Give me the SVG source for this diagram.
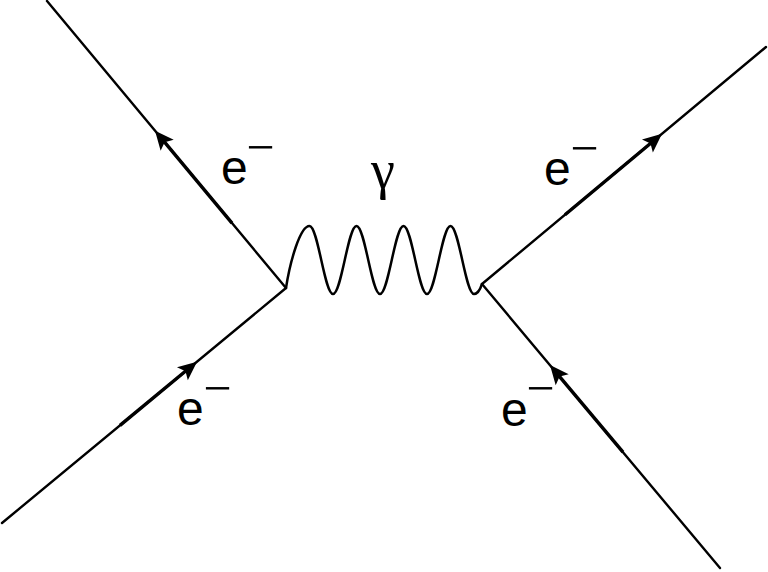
<svg xmlns="http://www.w3.org/2000/svg" width="768" height="572" viewBox="0 0 768 572">
  <style>
    .fermion { stroke: #000; stroke-width: 2.4; fill: none; stroke-linecap: round; }
    .shaft { stroke: #000; stroke-width: 3.4; fill: none; stroke-linecap: butt; }
    .photon { stroke: #000; stroke-width: 2.5; fill: none; stroke-linejoin: round; }
    .lbl { font-family: "Liberation Sans", Arial, sans-serif; font-size: 48px; fill: #000; }
    .sup { font-family: "Liberation Serif", "Times New Roman", serif; font-size: 50px; }
    .gamma { font-family: "Liberation Serif", "Times New Roman", serif; font-size: 54px; fill: #000; }
  </style>
  <defs>
    <marker id="arr" viewBox="-22 -10 23 20" markerWidth="23" markerHeight="20" refX="-12" refY="0" orient="auto" markerUnits="userSpaceOnUse">
      <path d="M0,0 L-19,-8.5 L-15,0 L-19,8.5 Z" fill="#000"/>
    </marker>
  </defs>
  <rect width="768" height="572" fill="#fff"/>
  <g id="connectors">
    <line id="e-in-left" class="fermion" x1="2" y1="523" x2="286" y2="288"/>
    <line id="e-out-left" class="fermion" x1="286" y1="288" x2="47" y2="1"/>
    <line id="e-in-right" class="fermion" x1="720" y1="568" x2="482" y2="284"/>
    <line id="e-out-right" class="fermion" x1="482" y1="284" x2="766" y2="47"/>
    <line class="shaft" x1="232" y1="223.2" x2="162.7" y2="139.9" marker-end="url(#arr)"/>
    <line class="shaft" x1="120" y1="425.4" x2="187.8" y2="369.3" marker-end="url(#arr)"/>
    <line class="shaft" x1="565" y1="214.7" x2="652.8" y2="141.5" marker-end="url(#arr)"/>
    <line class="shaft" x1="623" y1="452.2" x2="557.7" y2="374.3" marker-end="url(#arr)"/>
    <path id="photon" class="photon" d="M286,288 C290,262 300,226 309.5,226 C318,226 324.5,294 333,294 C341.5,294 348,226 356.5,226 C365,226 371.5,294 380,294 C388.5,294 395,226 403.5,226 C412,226 418.5,294 427,294 C435.5,294 442,226 450.5,226 C459,226 465.5,294 474,294 C477.5,294 480,290 482,284"/>
  </g>
  <g id="label-top-left"><text class="lbl" x="221" y="184">e<tspan class="sup" x="246.3" y="163.5">−</tspan></text></g>
  <g id="label-top-right"><text class="lbl" x="544" y="185">e<tspan class="sup" x="570.3" y="164.5">−</tspan></text></g>
  <g id="label-bottom-left"><text class="lbl" x="177" y="425">e<tspan class="sup" x="203.3" y="404.5">−</tspan></text></g>
  <g id="label-bottom-right"><text class="lbl" x="501" y="426">e<tspan class="sup" x="526.3" y="404.5">−</tspan></text></g>
  <g id="label-photon"><text class="gamma" x="383" y="188" text-anchor="middle">γ</text></g>
</svg>
